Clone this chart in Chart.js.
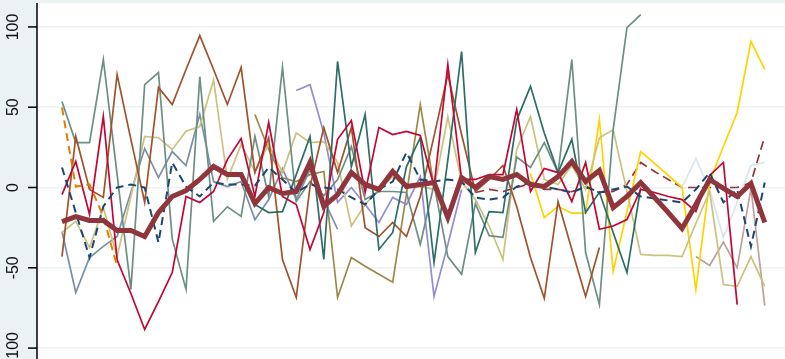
<!DOCTYPE html>
<html>
<head>
<meta charset="utf-8">
<script src="https://cdn.jsdelivr.net/npm/chart.js@4"></script>
<style>
  html, body { margin: 0; padding: 0; background: #eaf2f3; }
  #wrap { width: 785px; height: 359px; }
</style>
</head>
<body>
<div id="wrap"><canvas id="chart" width="785" height="359"></canvas></div>
<script>
// x positions (periods), y tick labels
const periods = [1,2,3,4,5,6,7,8,9,10,11,12,13,14,15,16,17,18,19,20,21,22,23,24,25,26,
  27,28,29,30,31,32,33,34,35,36,37,38,39,40,41,42,43,44,45,46,47,48,49,50,51,52];
const yTicks = [-100, -50, 0, 50, 100];

// average line (thick maroon)
const meanValues = [-21.2,-18.1,-20.5,-20.5,-26.8,-26.8,-30.5,-15.6,-5.6,-1.9,
  5,13.1,8.1,8.1,-10,0,-3.7,-2.5,15.6,-11.8,
  -4.4,9.3,1.9,-1.2,10,0.6,1.9,3.1,-18.7,6.2,
  0,6.8,5,8.1,1.9,0.6,6.8,16.2,3.7,10.6,
  -12.5,-5.6,3.1,-6.2,-15.6,-25.5,-10.6,5,-0.6,-5.6,
  2.5,-21.8];

// individual series: first period index + values
const navyStart = 0;
const navyValues = [12.5,-15.6,-43.6,-11.8,0,1.9,0,-34.2,15.6,0.6,
  -5.6,3.1,1.9,1.9,1.2,12.5,5,-3.1,1.9,0,
  -1.2,-6.2,-10.6,-1.2,3.7,21.8,5,3.7,5,3.7,
  -6.2,-7.5,-6.2,0.6,3.1,0.6,-1.2,-3.1,0.6,-3.1,
  -1.2,0.6,-5.6,-6.8,-8.1,-9.3,-1.2,9.3,-9.3,-1.2,
  -36.7,3.1];
const orangeStart = 0;
const orangeValues = [49.8,0.6,1.9,-18,-49];
const tealStart = 0;
const tealValues = [53.6,28,28,79.7,8,-63.5,64,71.6,-32,-63.5,
  69,-21,-12,-18,31.8,-5.6,75,-8.7,3.7,-5,
  5,25.5,-7.5,-2.5,-2.5,-3.1,-35.5,1.9,-43,-54,
  -10,-30,-31,19,12.5,28,9.3,79.7,-40.5,-72.9,
  36,99.6,107.7];
const redStart = 0;
const redValues = [-4.4,16.2,-16.8,44.2,-45,-66,-88.4,-71,-53,-5.6,
  -9.3,-2.5,17.4,30.5,-5.6,40.5,-5.6,-10.6,-38.6,-15.6,
  30,41.7,-3.1,37.4,33,34.9,32.4,0.6,76.6,5,
  5,8,8,48.6,-2.5,11.8,9.3,-8.7,15.6,-26,
  -24,-20,-1.2,-3.1,-5.6,-7.5,-15,7.5,15.6,-72.9];
const siennaStart = 0;
const siennaValues = [-43,31.8,-1.2,-6.2,70.4,30,-9.3,62.3,51.7,73.5,
  94.6,73.5,51.7,74.7,9.3,31,-44.8,-68.5,0.6,37.4,
  9.3,37.4,-25,-30.5,-21.8,-30.5,-5.6,32,70.4,33,
  -2.5,5,13.7,-11.8,-43.6,-69,-8.7,-38.6,-67.9,-37.4];
const khakiStart = 0;
const khakiValues = [-28,-21,-37.4,-12.5,-43,-5.6,31.8,31,23.7,35,
  38,67,5,26.8,10,26.8,9.3,34,28,28.6,
  15.6,-24,-10.6,-1.2,6.8,0.6,0.6,-1.2,44,3.7,
  -7.5,-24,-44.8,23.7,44.2,5,1.9,13.7,-1.2,31,
  36,-2.5,-41.7,-42.3,-42.3,-43,-22.4,-2.5,-60.4,-61.6,
  -43,-61.6];
const steelStart = 0;
const steelValues = [-27.4,-65.4,-43.6,-36.7,-30.5,-3,24.3,6.2,22.4,13.7,
  45.5,3.7,0.6,3.7,-20,-7.5,11.8,-7.5,11,-7.5,
  -26];
const lavenderStart = 17;
const lavenderValues = [60.4,64,34,-9.3,0,-10.6,-21.8,-6.2,-10.6,6.8,-67.9,-35.5,-1.2];
const emeraldStart = 14;
const emeraldValues = [-10.6,-15.6,-15,8,31.8,-44.8,78.5,13,45.5,-38.6,
  -28,13,31,-46.7,17,84.7,-40.5,-15,-15.6,42,
  63,34,9.3,30,-15.6,-3,-28,-53,0];
const oliveStart = 14;
const oliveValues = [45.5,23.7,6,3.7,8,10,-68.5,-43.6,-49,-54,-59,-4,51.7,0.6];
const roseStart = 46;
const roseValues = [-43,-48.6,-34,-50,-0.6,-73.5];
const goldStart = 34;
const goldValues = [8.7,-18.7,-11.8,-16,-16,42.3,-52.3,-15,22.4,15,
  7.5,0,-63.5,3.7,25.5,46.7,91,73.5];
const paleStart = 45;
const paleValues = [0,18,-1.2,-31,-9.3,13.7,15.6];
const maroonDashStart = 30;
const maroonDashValues = [-3.1,-1.2,-2.5,0,2.5,-1.2,-1.2,-2.5,0,-3.1,
  -2.5,1.9,15.6,10,5,0,0,0,0,0,3.1,31.8];

function pts(start, vals) {
  return vals.map((v, k) => ({ x: periods[start + k], y: v }));
}

function line(vals, start, color, width, dash) {
  return {
    data: pts(start, vals),
    borderColor: color,
    borderWidth: width,
    borderDash: dash || [],
    pointRadius: 0,
    tension: 0,
    fill: false
  };
}

// first dataset is drawn on top
const datasets = [
  line(meanValues, 0, '#90353b', 5),
  line(navyValues, navyStart, '#1a476f', 2, [8, 5]),
  line(orangeValues, orangeStart, '#e37e00', 2, [8, 5]),
  line(redValues, redStart, '#c10534', 1.7),
  line(emeraldValues, emeraldStart, '#2d6d66', 1.7),
  line(siennaValues, siennaStart, '#a0522d', 1.7),
  line(tealValues, tealStart, '#6e8e84', 1.7),
  line(khakiValues, khakiStart, '#cac27e', 1.7),
  line(steelValues, steelStart, '#7890a8', 1.7),
  line(lavenderValues, lavenderStart, '#938dd2', 1.7),
  line(oliveValues, oliveStart, '#9c8847', 1.7),
  line(goldValues, goldStart, '#ffd200', 1.7),
  line(roseValues, roseStart, '#bfa19c', 1.7),
  line(paleValues, paleStart, '#d9e6eb', 1.7),
  line(maroonDashValues, maroonDashStart, '#90353b', 1.7, [9, 5])
];

const frame = {
  id: 'frame',
  beforeDraw(chart) {
    const { ctx, chartArea: a } = chart;
    ctx.save();
    ctx.fillStyle = '#eaf2f3';
    ctx.fillRect(0, 0, chart.width, chart.height);
    ctx.fillStyle = '#ffffff';
    ctx.fillRect(a.left, a.top, a.right - a.left, a.bottom - a.top);
    ctx.restore();
  },
  afterDraw(chart) {
    const { ctx, chartArea: a } = chart;
    const y = chart.scales.y;
    ctx.save();
    ctx.strokeStyle = '#000';
    ctx.lineWidth = 1.5;
    ctx.beginPath();
    ctx.moveTo(a.left, a.top);
    ctx.lineTo(a.left, a.bottom);
    ctx.stroke();
    ctx.fillStyle = '#111';
    ctx.font = '16px "Liberation Sans", Arial, sans-serif';
    ctx.textAlign = 'center';
    ctx.textBaseline = 'alphabetic';
    yTicks.forEach(v => {
      const py = y.getPixelForValue(v);
      ctx.beginPath();
      ctx.moveTo(a.left - 9, py);
      ctx.lineTo(a.left, py);
      ctx.stroke();
      ctx.save();
      ctx.translate(18, py);
      ctx.rotate(-Math.PI / 2);
      ctx.fillText(String(v), 0, 0);
      ctx.restore();
    });
    ctx.restore();
  }
};

new Chart(document.getElementById('chart'), {
  type: 'line',
  data: { datasets },
  options: {
    responsive: false,
    animation: false,
    spanGaps: false,
    layout: { padding: { left: 37, top: 3, right: 0, bottom: 0 } },
    plugins: { legend: { display: false }, tooltip: { enabled: false } },
    scales: {
      x: {
        type: 'linear',
        display: false,
        min: -0.814,
        max: 53.47
      },
      y: {
        min: -106.8,
        max: 114.9,
        afterBuildTicks: s => { s.ticks = yTicks.map(v => ({ value: v })); },
        ticks: { display: false },
        grid: { color: '#eaf2f3', lineWidth: 1.5, drawTicks: false },
        border: { display: false }
      }
    }
  },
  plugins: [frame]
});
</script>
</body>
</html>
